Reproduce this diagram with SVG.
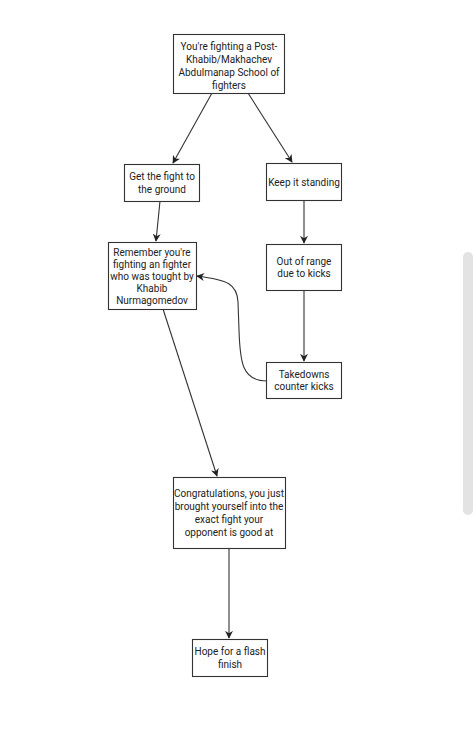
<svg xmlns="http://www.w3.org/2000/svg" width="474" height="731" viewBox="0 0 474 731">
<style>
.box{fill:#fff;stroke:#333;stroke-width:1.1}
.t{font-family:Roboto,"Liberation Sans",sans-serif;font-size:10px;fill:#222;text-anchor:middle}
.e{fill:none;stroke:#333;stroke-width:1.1}
</style>
<defs>
<marker id="ah" viewBox="0 0 10 10" refX="9" refY="5" markerWidth="8" markerHeight="8" markerUnits="userSpaceOnUse" orient="auto">
<path d="M0,0 L10,5 L0,10 L3,5 Z" fill="#222"/>
</marker>
</defs>
<rect width="474" height="731" fill="#fff"/>
<rect x="463" y="252" width="10" height="263" rx="5" fill="#e3e3e3"/>
<g id="connectors">
<path class="e" d="M212,93 L173,163" marker-end="url(#ah)"/>
<path class="e" d="M248,93 L292,162" marker-end="url(#ah)"/>
<path class="e" d="M160,201 L156,241" marker-end="url(#ah)"/>
<path class="e" d="M304,200 L304,243" marker-end="url(#ah)"/>
<path class="e" d="M304,290 L304,361" marker-end="url(#ah)"/>
<path class="e" d="M267,381 C242,381 240,362 239,330 L238,302 C237,284 228,280 197,276" marker-end="url(#ah)"/>
<path class="e" d="M163,309 L217,476" marker-end="url(#ah)"/>
<path class="e" d="M229,548 L229,638" marker-end="url(#ah)"/>
</g>
<g id="n1"><rect class="box" x="173.5" y="34.5" width="111" height="59"/>
<text class="t" x="229" y="50">You're fighting a Post-</text>
<text class="t" x="229" y="63">Khabib/Makhachev</text>
<text class="t" x="229" y="76">Abdulmanap School of</text>
<text class="t" x="229" y="89">fighters</text></g>
<g id="n2"><rect class="box" x="124.5" y="164.5" width="75" height="37"/>
<text class="t" x="162" y="180">Get the fight to</text>
<text class="t" x="162" y="193">the ground</text></g>
<g id="n3"><rect class="box" x="266.5" y="163.5" width="75" height="37"/>
<text class="t" x="304" y="185.5">Keep it standing</text></g>
<g id="n4"><rect class="box" x="108.5" y="242.5" width="88" height="67"/>
<text class="t" x="152" y="255.5">Remember you're</text>
<text class="t" x="152" y="267.5">fighting an fighter</text>
<text class="t" x="152" y="279.5">who was tought by</text>
<text class="t" x="152" y="291.5">Khabib</text>
<text class="t" x="152" y="303.5">Nurmagomedov</text></g>
<g id="n5"><rect class="box" x="266.5" y="244.5" width="75" height="46"/>
<text class="t" x="304" y="265">Out of range</text>
<text class="t" x="304" y="277">due to kicks</text></g>
<g id="n6"><rect class="box" x="266.5" y="362.5" width="75" height="36"/>
<text class="t" x="304" y="377.5">Takedowns</text>
<text class="t" x="304" y="389.5">counter kicks</text></g>
<g id="n7"><rect class="box" x="173.5" y="477.5" width="112" height="71"/>
<text class="t" x="229" y="497">Congratulations, you just</text>
<text class="t" x="229" y="510">brought yourself into the</text>
<text class="t" x="229" y="523">exact fight your</text>
<text class="t" x="229" y="536">opponent is good at</text></g>
<g id="n8"><rect class="box" x="192.5" y="639.5" width="75" height="37"/>
<text class="t" x="230" y="655">Hope for a flash</text>
<text class="t" x="230" y="668">finish</text></g>
</svg>
